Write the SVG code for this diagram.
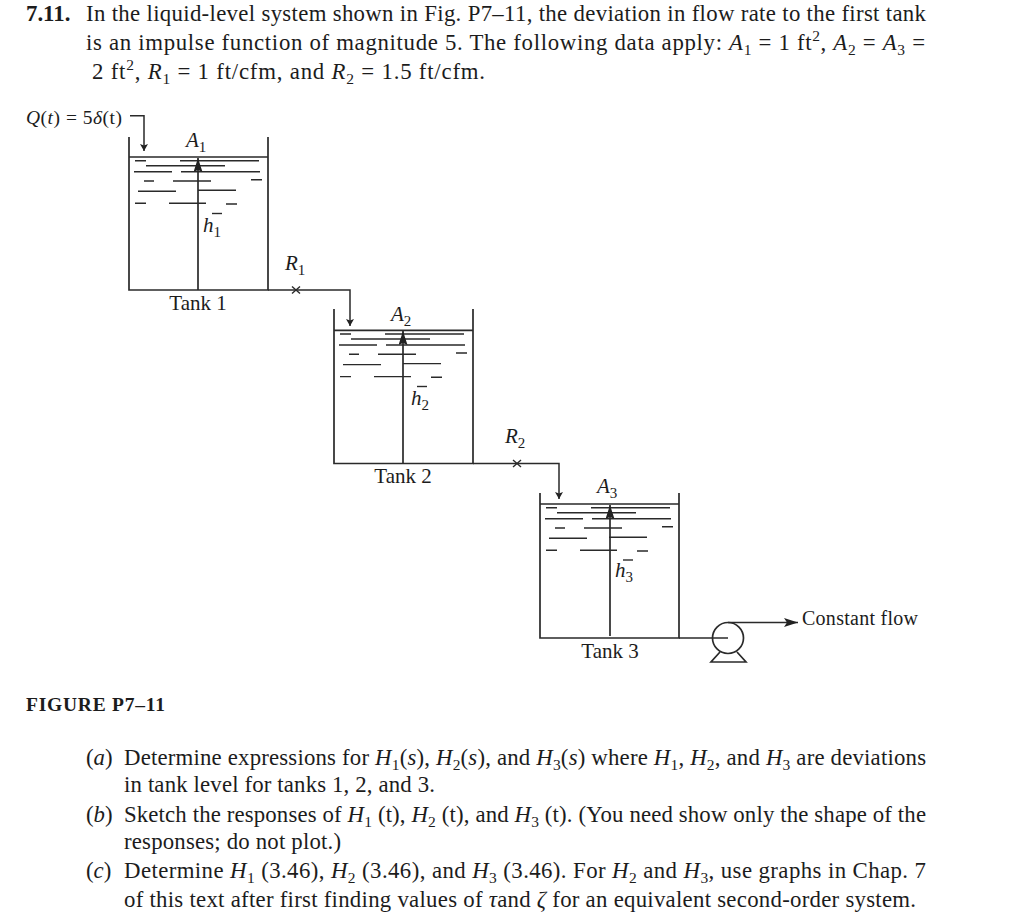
<svg xmlns="http://www.w3.org/2000/svg" xmlns:xlink="http://www.w3.org/1999/xlink" width="1024" height="920" viewBox="0 0 1024 920">
<style>
text{font-family:"Liberation Serif","Times New Roman",serif;font-size:22.800px;fill:#1c1c1c}
.b{font-weight:bold}
.i{font-style:italic}
.s{font-size:15.500px}
.l{font-size:21px}
.ls{font-size:15px;font-style:normal}
.m{text-anchor:middle}
.w{fill:none;stroke:#2a2a2a;stroke-width:1.7}
.d{fill:none;stroke:#2a2a2a;stroke-width:1.4}
</style>
<defs>
<marker id="a" markerUnits="userSpaceOnUse" markerWidth="8" markerHeight="9" refX="7" refY="4" orient="auto"><path d="M0 0L7 4L0 8L1.5 4Z" fill="#222"/></marker>
<marker id="b" markerUnits="userSpaceOnUse" markerWidth="15" markerHeight="10" refX="14" refY="4.5" orient="auto"><path d="M0 0L14 4.5L0 9L3 4.5Z" fill="#222"/></marker>
<marker id="c" markerUnits="userSpaceOnUse" markerWidth="15" markerHeight="10" refX="14" refY="4.5" orient="auto"><path d="M0 0L14 4.5L0 9L2 4.5Z" fill="#222"/></marker>
<g id="liquid">
<path class="d" d="M6 3.700H17M51 3.700H130M17 8.700H96M5 14.700H43M52 14.700H131M15 24H25M44 24H82M122 22.700H133M9 34.300H47M69 33.300H107M6 46.300H17M40 46.300H77M97 47H108"/>
</g>
</defs>
<rect width="1024" height="920" fill="#fff"/>

<g id="problem">
<text x="26" y="21" class="b">7.11.</text>
<text x="86" y="21" textLength="840">In the liquid-level system shown in Fig. P7–11, the deviation in flow rate to the first tank</text>
<text x="86" y="50" textLength="839">is an impulse function of magnitude 5. The following data apply: <tspan class="i">A</tspan><tspan class="s" dy="5">1</tspan><tspan dy="-5"> = 1 ft</tspan><tspan class="s" dy="-9">2</tspan><tspan dy="9">, </tspan><tspan class="i">A</tspan><tspan class="s" dy="5">2</tspan><tspan dy="-5"> = </tspan><tspan class="i">A</tspan><tspan class="s" dy="5">3</tspan><tspan dy="-5"> =</tspan></text>
<text x="92" y="79" textLength="393">2 ft<tspan class="s" dy="-9">2</tspan><tspan dy="9">, </tspan><tspan class="i">R</tspan><tspan class="s" dy="5">1</tspan><tspan dy="-5"> = 1 ft/cfm, and </tspan><tspan class="i">R</tspan><tspan class="s" dy="5">2</tspan><tspan dy="-5"> = 1.5 ft/cfm.</tspan></text>
</g>

<g id="connectors">
<path class="w" style="stroke-width:1.5" d="M130 115.700H144V151" marker-end="url(#a)"/>
<path class="w" style="stroke-width:1.5" d="M268 290H350V326" marker-end="url(#a)"/>
<path class="w" style="stroke-width:1.5" d="M473 463.500H559V499" marker-end="url(#a)"/>
<path class="w" style="stroke-width:1.5" d="M679 638H728"/>
<path class="w" style="stroke-width:1.5" d="M728 622.500H798" marker-end="url(#b)"/>
</g>

<g id="tank1">
<path class="w" d="M129 137V290H268V137M129 157H268"/>
<use xlink:href="#liquid" href="#liquid" transform="translate(129 157)"/>
<path class="w" d="M198 290V158" marker-end="url(#c)"/>
<text x="186" y="147" class="l i">A<tspan class="ls" dy="5">1</tspan></text>
<text x="203" y="232" class="l i">h<tspan class="ls" dy="5">1</tspan></text>
<path class="d" d="M212 213.500H222"/>
<text x="198" y="310" class="l m">Tank 1</text>
</g>
<g id="valve1">
<path class="d" d="M292 286.500L300 293.500M292 293.500L300 286.500"/>
<text x="285" y="270" class="l i">R<tspan class="ls" dy="5">1</tspan></text>
</g>

<g id="tank2">
<path class="w" d="M334 309V463.500H473V309M334 330.300H473"/>
<use xlink:href="#liquid" href="#liquid" transform="translate(334 330.300)"/>
<path class="w" d="M403 463V331" marker-end="url(#c)"/>
<text x="391" y="321" class="l i">A<tspan class="ls" dy="5">2</tspan></text>
<text x="411" y="405" class="l i">h<tspan class="ls" dy="5">2</tspan></text>
<path class="d" d="M417 386.500H427"/>
<text x="403" y="483" class="l m">Tank 2</text>
</g>
<g id="valve2">
<path class="d" d="M513 460L521 467M513 467L521 460"/>
<text x="505" y="443" class="l i">R<tspan class="ls" dy="5">2</tspan></text>
</g>

<g id="tank3">
<path class="w" d="M540 493V638H679V493M540 504H679"/>
<use xlink:href="#liquid" href="#liquid" transform="translate(540 504)"/>
<path class="w" d="M610 636V505" marker-end="url(#c)"/>
<text x="597" y="493" class="l i">A<tspan class="ls" dy="5">3</tspan></text>
<text x="615" y="577" class="l i">h<tspan class="ls" dy="5">3</tspan></text>
<path class="d" d="M623 560H633"/>
<text x="610" y="658" class="l m">Tank 3</text>
</g>

<g id="pump">
<circle class="w" cx="728" cy="638" r="15.500"/>
<path class="w" d="M720 652L711 662H746L737 652"/>
</g>

<g id="labels">
<text x="26" y="124" style="font-size:19.500px" textLength="96"><tspan class="i">Q</tspan>(<tspan class="i">t</tspan>) = 5<tspan class="i">δ</tspan>(t)</text>
<text x="802" y="625" style="font-size:20px" textLength="116">Constant flow</text>
<text x="26" y="711" class="b" style="font-size:19.500px" textLength="139">FIGURE P7–11</text>
</g>

<g id="questions">
<text x="86" y="765">(<tspan class="i">a</tspan>)</text>
<text x="124" y="765" textLength="802">Determine expressions for <tspan class="i">H</tspan><tspan class="s" dy="5">1</tspan><tspan dy="-5">(</tspan><tspan class="i">s</tspan>), <tspan class="i">H</tspan><tspan class="s" dy="5">2</tspan><tspan dy="-5">(</tspan><tspan class="i">s</tspan>), and <tspan class="i">H</tspan><tspan class="s" dy="5">3</tspan><tspan dy="-5">(</tspan><tspan class="i">s</tspan>) where <tspan class="i">H</tspan><tspan class="s" dy="5">1</tspan><tspan dy="-5">, </tspan><tspan class="i">H</tspan><tspan class="s" dy="5">2</tspan><tspan dy="-5">, and </tspan><tspan class="i">H</tspan><tspan class="s" dy="5">3</tspan><tspan dy="-5"> are deviations</tspan></text>
<text x="124" y="792" textLength="311">in tank level for tanks 1, 2, and 3.</text>
<text x="86" y="822">(<tspan class="i">b</tspan>)</text>
<text x="124" y="822" textLength="802">Sketch the responses of <tspan class="i">H</tspan><tspan class="s" dy="5">1</tspan><tspan dy="-5"> (t), </tspan><tspan class="i">H</tspan><tspan class="s" dy="5">2</tspan><tspan dy="-5"> (t), and </tspan><tspan class="i">H</tspan><tspan class="s" dy="5">3</tspan><tspan dy="-5"> (t). (You need show only the shape of the</tspan></text>
<text x="124" y="849" textLength="217">responses; do not plot.)</text>
<text x="86" y="878">(<tspan class="i">c</tspan>)</text>
<text x="124" y="878" textLength="802">Determine <tspan class="i">H</tspan><tspan class="s" dy="5">1</tspan><tspan dy="-5"> (3.46), </tspan><tspan class="i">H</tspan><tspan class="s" dy="5">2</tspan><tspan dy="-5"> (3.46), and </tspan><tspan class="i">H</tspan><tspan class="s" dy="5">3</tspan><tspan dy="-5"> (3.46). For </tspan><tspan class="i">H</tspan><tspan class="s" dy="5">2</tspan><tspan dy="-5"> and </tspan><tspan class="i">H</tspan><tspan class="s" dy="5">3</tspan><tspan dy="-5">, use graphs in Chap. 7</tspan></text>
<text x="124" y="907" textLength="792">of this text after first finding values of <tspan class="i">τ</tspan>and <tspan class="i">ζ</tspan> for an equivalent second-order system.</text>
</g>
</svg>
